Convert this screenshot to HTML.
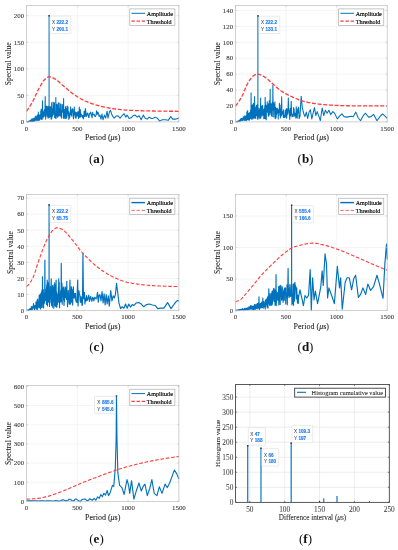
<!DOCTYPE html>
<html><head><meta charset="utf-8"><title>Figure</title>
<style>
html,body{margin:0;padding:0;background:#fff;}
svg{display:block;}
text{font-family:"Liberation Serif",serif;}
.tk{font-size:6.9px;fill:#3a3a3a;stroke:#3a3a3a;stroke-width:0.1px;}
.xl{font-size:8px;fill:#262626;stroke:#262626;stroke-width:0.1px;}
.yl{font-size:7.55px;fill:#262626;stroke:#262626;stroke-width:0.08px;}
.tk2{font-size:7.3px;fill:#444;stroke:#444;stroke-width:0.06px;}
.xl2{font-size:7.2px;fill:#333;stroke:#333;stroke-width:0.1px;}
.yl2{font-size:7.1px;fill:#333;stroke:#333;stroke-width:0.1px;}
.lg{font-size:6.1px;fill:#000;stroke:#000;stroke-width:0.15px;}
.lg2{font-size:6.3px;fill:#222;stroke:#222;stroke-width:0.05px;}
.it{font-style:italic;}
.tp{font-family:"Liberation Sans",sans-serif;font-size:4.6px;}
.tx{fill:#4a4a4a;stroke:#4a4a4a;stroke-width:0.08px;}
.tv{font-weight:bold;fill:#1a7bf0;stroke:#1a7bf0;stroke-width:0.12px;}
.cp{font-size:13px;font-weight:bold;fill:#111;}
.cpn{font-weight:normal;}
</style></head><body>
<svg width="398" height="550" viewBox="0 0 398 550">
<rect width="398" height="550" fill="#fff"/>
<rect x="26.5" y="5.6" width="152.4" height="116.3" fill="#fff"/>
<line x1="77.3" y1="5.6" x2="77.3" y2="121.9" stroke="#ebebeb" stroke-width="0.55"/>
<line x1="128.1" y1="5.6" x2="128.1" y2="121.9" stroke="#ebebeb" stroke-width="0.55"/>
<line x1="26.5" y1="95.35" x2="178.9" y2="95.35" stroke="#ebebeb" stroke-width="0.55"/>
<line x1="26.5" y1="68.79" x2="178.9" y2="68.79" stroke="#ebebeb" stroke-width="0.55"/>
<line x1="26.5" y1="42.24" x2="178.9" y2="42.24" stroke="#ebebeb" stroke-width="0.55"/>
<line x1="26.5" y1="15.69" x2="178.9" y2="15.69" stroke="#ebebeb" stroke-width="0.55"/>
<polyline points="26.5,121.9 27.11,121.77 27.21,121.73 27.31,121.85 27.41,121.8 27.52,121.53 27.62,121.8 27.72,121.77 27.82,121.4 27.92,121.56 28.02,121.64 28.13,121.56 28.23,121.47 28.33,121.63 28.43,121.69 28.53,121.3 28.64,121.36 28.74,121.43 28.84,121.19 28.94,121.36 29.04,120.85 29.14,121.56 29.25,121.29 29.35,121.32 29.45,121.4 29.55,121.19 29.66,121.45 29.76,120.87 29.86,120.71 29.96,121.5 30.06,121.11 30.17,121.28 30.27,121.52 30.37,120.33 30.47,121.01 30.58,121.35 30.68,120.59 30.78,121.22 30.88,119.98 30.99,121.15 31.09,121.54 31.19,121.13 31.3,120.86 31.4,120.62 31.5,119.56 31.61,120.1 31.71,120.75 31.81,121.55 31.92,121.06 32.02,118.54 32.12,120.38 32.22,119.82 32.33,121.31 32.43,121.39 32.53,119.16 32.64,119.89 32.74,120.51 32.85,120.46 32.95,121.08 33.05,120.79 33.16,121.38 33.26,118.76 33.36,119.91 33.47,120.86 33.57,119 33.68,120.58 33.78,121.09 33.89,119.33 33.99,118 34.1,121.27 34.2,118.38 34.31,120.46 34.41,120.84 34.52,121.32 34.63,120.03 34.74,118.46 34.84,119.29 34.95,117.68 35.06,120.19 35.17,119.8 35.27,119.98 35.37,116.15 35.48,116.6 35.59,119.58 35.69,119.19 35.8,119.62 35.91,117.76 36.02,120.96 36.13,120.73 36.23,119.13 36.34,119.76 36.45,116.84 36.56,117.45 36.67,118.36 36.78,117.73 36.88,117.47 36.99,116.82 37.1,115.37 37.21,119.93 37.32,117.43 37.42,119.88 37.53,118.22 37.63,116.1 37.74,114.96 37.85,116.09 37.96,120.63 38.08,118.31 38.19,119.44 38.3,112.07 38.4,119.49 38.51,118.76 38.61,118 38.72,120.13 38.83,113.93 38.95,115.95 39.06,119.1 39.18,116.72 39.3,119.76 39.42,115.73 39.53,118.34 39.63,120.2 39.74,119.24 39.85,115.8 39.96,115.06 40.07,117.35 40.18,114.81 40.3,117.01 40.42,118.83 40.54,117.16 40.66,116.45 40.78,110.85 40.91,118.81 41.01,119.14 41.12,114.74 41.22,108.95 41.33,110.27 41.44,113.11 41.55,119.25 41.66,111.58 41.78,112.99 41.89,118.14 42.01,115 42.13,119.41 42.25,111.2 42.38,112.21 42.5,100.66 42.63,111.51 42.76,116.55 42.89,110.93 43.02,116.64 43.16,117.86 43.26,115.13 43.36,114.02 43.47,116.1 43.58,112.78 43.68,112.75 43.79,116.47 43.9,112.4 44.02,115.15 44.13,110.86 44.25,115.76 44.36,109.74 44.48,114.34 44.6,112.8 44.72,111.3 44.85,113.06 44.97,115.86 45.1,104.32 45.23,96.41 45.36,114.95 45.49,112.37 45.62,119.27 45.76,116.9 45.9,108.65 46.04,108.82 46.18,110.9 46.32,106.09 46.47,108.99 46.62,114.76 46.77,110.45 46.87,114.18 46.97,108.84 47.08,113.64 47.18,116.6 47.29,106.33 47.39,109.74 47.5,108.9 47.61,111.49 47.72,108.24 47.83,112.85 47.95,111.4 48.06,118.14 48.17,111.52 48.29,107.62 48.41,109.46 48.53,107.83 48.65,112.22 48.77,106.13 48.89,117.23 49.08,113.69 49.14,113.69 49.27,117.51 49.4,110.63 49.53,112.67 49.66,112.98 49.79,106.77 49.92,116.69 50.06,110.63 50.2,113.13 50.34,111.74 50.48,112.09 50.62,116.71 50.76,111.92 50.91,106.48 51.06,116.14 51.21,119.5 51.36,117.86 51.51,112.51 51.66,102.67 51.82,118.37 51.98,102.25 52.14,111.55 52.3,116.85 52.47,112.95 52.64,115.55 52.8,109.1 52.98,111.44 53.15,114.49 53.33,114.89 53.5,106.23 53.68,102.25 53.87,112.67 54.05,113.03 54.24,108.66 54.43,102.72 54.62,117.45 54.82,116.12 55.02,113.49 55.22,111.74 55.32,117.58 55.43,117.96 55.53,115.24 55.63,113.18 55.74,108.56 55.84,97.47 55.95,118.58 56.06,118.13 56.16,112.36 56.27,105.9 56.38,104.8 56.49,113.38 56.6,105.56 56.72,104.32 56.83,112.87 56.94,108.38 57.06,113.35 57.17,116.08 57.29,110.81 57.4,117.18 57.52,109.64 57.64,107.3 57.76,104.8 57.88,112.37 58,116.62 58.13,105.2 58.25,103.31 58.37,102.84 58.5,110.59 58.63,109.53 58.75,113.25 58.88,115.62 59.01,114.22 59.14,108.85 59.27,113.82 59.41,109.29 59.54,111.74 59.68,112.37 59.81,102.95 59.95,115.84 60.09,111.92 60.23,115.92 60.37,104.23 60.51,111.9 60.65,113.73 60.8,115.79 60.94,110.63 61.09,112.95 61.24,116.38 61.38,118.26 61.53,113.04 61.69,110.78 61.84,104.38 61.99,105.47 62.15,105.16 62.31,104.39 62.46,107.66 62.62,112.05 62.79,111.51 62.95,112.97 63.11,112.94 63.28,117.94 63.45,107.71 63.61,98.53 63.78,118.25 63.96,112.18 64.13,109.03 64.3,112.53 64.48,113.34 64.66,109.87 64.84,115.78 65.02,118.84 65.2,110.72 65.39,111.46 65.58,106.49 65.77,112.76 65.96,108.03 66.15,118.52 66.34,118.21 66.54,110.66 66.74,114.92 66.94,117.25 67.14,105.97 67.34,113.28 67.55,113.77 67.76,111.37 67.97,106.66 68.18,113.67 68.4,115.73 68.61,111.61 68.83,119.37 69.05,113.78 69.28,114.53 69.51,113.91 69.73,117.88 69.97,112.49 70.2,111.89 70.44,110.59 70.67,106.88 70.92,114.7 71.16,112.05 71.41,114.12 71.66,116.18 71.91,109.5 72.16,111.65 72.42,108.65 72.68,110.83 72.95,109.28 73.21,117.21 73.48,118.91 73.76,116.55 74.03,114.81 74.31,107.03 74.59,114.64 74.88,114.07 75.17,111.85 75.46,117.96 75.76,112.75 76.06,118.29 76.37,116.24 76.67,112.42 76.98,112.83 77.3,115.09 77.62,115.95 77.94,111.4 78.27,116.14 78.6,118.64 78.94,116.39 79.28,107.03 79.62,111.82 79.97,117.51 80.33,109.64 80.69,116.75 81.05,116.06 81.42,114.07 81.79,116.09 82.17,115.61 82.56,117.78 82.94,115.59 83.34,118.83 83.74,116.81 84.15,111.06 84.56,116.44 84.97,116.53 85.4,108.62 85.83,111.7 86.26,116.43 86.71,115.93 87.16,113.62 87.61,112.98 88.08,114.46 88.55,117.36 89.02,117.36 89.51,113.44 90,113.9 90.5,112.02 91.01,113.36 91.52,115.91 92.05,117.83 92.58,112.29 93.12,114.21 93.67,115.07 94.23,114.39 94.8,116.3 95.38,116.57 95.97,115.22 96.57,110.75 97.18,114.41 97.8,112.1 98.43,113.32 99.07,116.5 99.96,115.1 100.97,119.14 101.99,114.09 103,119.78 104.43,115.1 105.65,118.18 107.07,111.07 107.98,118.18 109.41,112.08 110.42,110.22 112.05,115.1 114.08,118.18 116.11,116.06 118.04,115.74 120.07,118.18 122.11,115.74 124.14,113.72 125.76,117.12 127.08,115.1 129.12,118.55 131.15,117.76 133.18,115.74 135.21,115.1 137.14,117.12 139.17,115.74 141.21,119.78 143.24,115.1 145.17,118.18 147.2,119.14 149.23,117.12 151.26,118.55 153.2,118.18 155.23,117.12 157.26,118.18 159.7,121.16 162.24,119.78 165.29,119.78 168.33,120.15 170.77,116.59 172.8,119.14 175.34,119.14 178.39,118.18 178.9,117.76" fill="none" stroke="#0072BD" stroke-width="1.05" stroke-linejoin="round"/>
<line x1="49.08" y1="116.97" x2="49.08" y2="15.64" stroke="#0072BD" stroke-width="1.05"/>
<polyline points="26.5,111.28 27.46,109.98 28.42,108.6 29.38,107.14 30.33,105.61 31.29,104 32.25,102.33 33.21,100.57 34.17,98.6 35.13,96.5 36.08,94.36 37.04,92.26 38,90.28 38.96,88.49 39.92,86.74 40.88,85 41.84,83.33 42.79,81.81 43.75,80.51 44.71,79.48 45.67,78.64 46.63,77.84 47.59,77.2 48.55,76.82 49.5,76.78 50.46,76.94 51.42,77.23 52.38,77.62 53.34,78.07 54.3,78.56 55.25,79.05 56.21,79.64 57.17,80.37 58.13,81.18 59.09,82.04 60.05,82.93 61.01,83.81 61.96,84.65 62.92,85.45 63.88,86.27 64.84,87.11 65.8,87.94 66.76,88.78 67.72,89.61 68.67,90.43 69.63,91.23 70.59,92 71.55,92.73 72.51,93.43 73.47,94.11 74.42,94.78 75.38,95.44 76.34,96.08 77.3,96.71 78.26,97.31 79.22,97.89 80.18,98.44 81.13,98.96 82.09,99.46 83.05,99.92 84.01,100.37 84.97,100.81 85.93,101.24 86.88,101.65 87.84,102.06 88.8,102.45 89.76,102.83 90.72,103.2 91.68,103.55 92.64,103.89 93.59,104.22 94.55,104.53 95.51,104.83 96.47,105.12 97.43,105.39 98.39,105.64 99.35,105.89 100.3,106.14 101.26,106.37 102.22,106.6 103.18,106.83 104.14,107.04 105.1,107.25 106.05,107.45 107.01,107.64 107.97,107.82 108.93,108 109.89,108.17 110.85,108.32 111.81,108.47 112.76,108.61 113.72,108.74 114.68,108.87 115.64,109 116.6,109.13 117.56,109.25 118.52,109.36 119.47,109.48 120.43,109.58 121.39,109.69 122.35,109.78 123.31,109.87 124.27,109.96 125.22,110.03 126.18,110.1 127.14,110.16 128.1,110.22 129.06,110.26 130.02,110.31 130.98,110.35 131.93,110.4 132.89,110.44 133.85,110.48 134.81,110.52 135.77,110.55 136.73,110.59 137.68,110.62 138.64,110.66 139.6,110.69 140.56,110.72 141.52,110.75 142.48,110.78 143.44,110.8 144.39,110.83 145.35,110.85 146.31,110.87 147.27,110.9 148.23,110.92 149.19,110.94 150.15,110.96 151.1,110.97 152.06,110.99 153.02,111.01 153.98,111.02 154.94,111.04 155.9,111.05 156.85,111.07 157.81,111.08 158.77,111.09 159.73,111.11 160.69,111.12 161.65,111.14 162.61,111.15 163.56,111.16 164.52,111.18 165.48,111.19 166.44,111.2 167.4,111.21 168.36,111.22 169.32,111.23 170.27,111.24 171.23,111.25 172.19,111.25 173.15,111.26 174.11,111.27 175.07,111.27 176.02,111.27 176.98,111.28 177.94,111.28 178.9,111.28" fill="none" stroke="#FF3B3B" stroke-width="1.3" stroke-linejoin="round" stroke-dasharray="4 1.7"/>
<rect x="26.5" y="5.6" width="152.4" height="116.3" fill="none" stroke="#bdbdbd" stroke-width="0.7"/>
<line x1="26.5" y1="121.9" x2="26.5" y2="120.4" stroke="#bdbdbd" stroke-width="0.6"/>
<line x1="26.5" y1="5.6" x2="26.5" y2="7.1" stroke="#bdbdbd" stroke-width="0.6"/>
<text x="26.5" y="130.5" class="tk" text-anchor="middle">0</text>
<line x1="77.3" y1="121.9" x2="77.3" y2="120.4" stroke="#bdbdbd" stroke-width="0.6"/>
<line x1="77.3" y1="5.6" x2="77.3" y2="7.1" stroke="#bdbdbd" stroke-width="0.6"/>
<text x="77.3" y="130.5" class="tk" text-anchor="middle">500</text>
<line x1="128.1" y1="121.9" x2="128.1" y2="120.4" stroke="#bdbdbd" stroke-width="0.6"/>
<line x1="128.1" y1="5.6" x2="128.1" y2="7.1" stroke="#bdbdbd" stroke-width="0.6"/>
<text x="128.1" y="130.5" class="tk" text-anchor="middle">1000</text>
<line x1="178.9" y1="121.9" x2="178.9" y2="120.4" stroke="#bdbdbd" stroke-width="0.6"/>
<line x1="178.9" y1="5.6" x2="178.9" y2="7.1" stroke="#bdbdbd" stroke-width="0.6"/>
<text x="178.9" y="130.5" class="tk" text-anchor="middle">1500</text>
<line x1="26.5" y1="121.9" x2="28" y2="121.9" stroke="#bdbdbd" stroke-width="0.6"/>
<line x1="178.9" y1="121.9" x2="177.4" y2="121.9" stroke="#bdbdbd" stroke-width="0.6"/>
<text x="24.2" y="124.2" class="tk" text-anchor="end">0</text>
<line x1="26.5" y1="95.35" x2="28" y2="95.35" stroke="#bdbdbd" stroke-width="0.6"/>
<line x1="178.9" y1="95.35" x2="177.4" y2="95.35" stroke="#bdbdbd" stroke-width="0.6"/>
<text x="24.2" y="97.65" class="tk" text-anchor="end">50</text>
<line x1="26.5" y1="68.79" x2="28" y2="68.79" stroke="#bdbdbd" stroke-width="0.6"/>
<line x1="178.9" y1="68.79" x2="177.4" y2="68.79" stroke="#bdbdbd" stroke-width="0.6"/>
<text x="24.2" y="71.09" class="tk" text-anchor="end">100</text>
<line x1="26.5" y1="42.24" x2="28" y2="42.24" stroke="#bdbdbd" stroke-width="0.6"/>
<line x1="178.9" y1="42.24" x2="177.4" y2="42.24" stroke="#bdbdbd" stroke-width="0.6"/>
<text x="24.2" y="44.54" class="tk" text-anchor="end">150</text>
<line x1="26.5" y1="15.69" x2="28" y2="15.69" stroke="#bdbdbd" stroke-width="0.6"/>
<line x1="178.9" y1="15.69" x2="177.4" y2="15.69" stroke="#bdbdbd" stroke-width="0.6"/>
<text x="24.2" y="17.99" class="tk" text-anchor="end">200</text>
<text x="102.7" y="140.2" class="xl" text-anchor="middle">Period (<tspan class='it'>μ</tspan>s)</text>
<text transform="translate(10.7,63.75) rotate(-90)" class="yl" text-anchor="middle">Spectral value</text>
<rect x="129.8" y="8.9" width="45.1" height="16.4" fill="#fff" stroke="#a0a0a0" stroke-width="0.6"/>
<line x1="131.4" y1="13.3" x2="145.1" y2="13.3" stroke="#0072BD" stroke-width="1.0"/>
<text x="146.8" y="15.8" class="lg">Amplitude</text>
<line x1="131.4" y1="21.1" x2="145.1" y2="21.1" stroke="#FF3B3B" stroke-width="1.1" stroke-dasharray="3.4 1.75"/>
<text x="146.8" y="23.6" class="lg">Threshold</text>
<rect x="50" y="16.1" width="20.8" height="17.3" rx="0.6" fill="#fff" fill-opacity="0.92" stroke="#d6d6d6" stroke-width="0.5"/>
<rect x="48.35" y="14.95" width="1.5" height="1.5" fill="#333326"/>
<text x="52" y="23.9" class="tp tx">X</text><text x="56.5" y="23.9" class="tp tv">222.2</text>
<text x="52" y="30.6" class="tp tx">Y</text><text x="56.5" y="30.6" class="tp tv">200.1</text>
<rect x="235.4" y="5.6" width="151.8" height="116.3" fill="#fff"/>
<line x1="286" y1="5.6" x2="286" y2="121.9" stroke="#ebebeb" stroke-width="0.55"/>
<line x1="336.6" y1="5.6" x2="336.6" y2="121.9" stroke="#ebebeb" stroke-width="0.55"/>
<line x1="235.4" y1="105.97" x2="387.2" y2="105.97" stroke="#ebebeb" stroke-width="0.55"/>
<line x1="235.4" y1="90.04" x2="387.2" y2="90.04" stroke="#ebebeb" stroke-width="0.55"/>
<line x1="235.4" y1="74.11" x2="387.2" y2="74.11" stroke="#ebebeb" stroke-width="0.55"/>
<line x1="235.4" y1="58.17" x2="387.2" y2="58.17" stroke="#ebebeb" stroke-width="0.55"/>
<line x1="235.4" y1="42.24" x2="387.2" y2="42.24" stroke="#ebebeb" stroke-width="0.55"/>
<line x1="235.4" y1="26.31" x2="387.2" y2="26.31" stroke="#ebebeb" stroke-width="0.55"/>
<line x1="235.4" y1="10.38" x2="387.2" y2="10.38" stroke="#ebebeb" stroke-width="0.55"/>
<polyline points="235.4,121.9 236.01,121.82 236.11,121.84 236.21,121.7 236.31,121.72 236.41,121.47 236.51,121.55 236.61,121.52 236.72,121.8 236.82,121.59 236.92,121.55 237.02,121.78 237.12,121.56 237.22,121.61 237.32,121.65 237.43,121.3 237.53,121.51 237.63,121.69 237.73,121.5 237.83,121.04 237.93,121.45 238.03,121.58 238.14,121.68 238.24,121.31 238.34,121.16 238.44,121.34 238.54,120.87 238.64,121.17 238.75,120.82 238.85,121.05 238.95,120.97 239.05,121.13 239.15,121.47 239.26,120.68 239.36,120.33 239.46,120.54 239.56,120.94 239.67,121.43 239.77,121.22 239.87,120.63 239.97,120.39 240.07,121.56 240.18,119.47 240.28,120.13 240.38,120.05 240.49,118.89 240.59,120.17 240.69,120.39 240.79,120.9 240.9,119.88 241,119.79 241.1,118.71 241.2,118.76 241.31,120.15 241.41,119.05 241.51,118.34 241.62,120.21 241.72,119.69 241.83,119.68 241.93,119.93 242.03,119.93 242.14,120.57 242.24,120.65 242.34,120.26 242.45,119.4 242.55,119.13 242.65,118.43 242.76,120.2 242.86,119.46 242.97,119.62 243.07,120.52 243.18,116.72 243.28,119.89 243.39,118.59 243.5,118.54 243.6,118.12 243.71,117.71 243.82,116.71 243.92,119.74 244.03,118.37 244.13,119.69 244.24,119.73 244.35,117.57 244.46,117.75 244.56,117.79 244.66,120.42 244.77,115.68 244.88,118.14 244.99,118.81 245.1,116.15 245.2,120.38 245.31,119.4 245.42,120.16 245.53,119.21 245.64,116.78 245.74,120 245.85,116.7 245.96,117.56 246.07,118.84 246.18,115.55 246.28,120.65 246.39,119.12 246.49,117.6 246.6,118.08 246.71,118.09 246.82,111.89 246.93,116.91 247.05,116.03 247.15,117.31 247.25,118.94 247.36,119.67 247.47,114.78 247.57,114.95 247.69,110.53 247.8,118.24 247.91,117.13 248.03,117.18 248.15,115.59 248.27,120.04 248.37,113.21 248.48,113.8 248.59,119.32 248.69,113.77 248.8,116.91 248.92,116.06 249.03,117.99 249.15,113.51 249.26,114.48 249.38,120.28 249.5,118.3 249.63,112.46 249.75,118.37 249.86,114.99 249.96,112.83 250.07,117.81 250.17,114.42 250.28,115.09 250.39,118.02 250.5,110.63 250.62,118.77 250.73,109.8 250.85,115.72 250.97,115.32 251.09,92.75 251.21,108.9 251.34,105.25 251.46,117.06 251.59,112.04 251.72,119.32 251.86,114.52 251.99,116.51 252.09,111.69 252.2,116.65 252.3,111.82 252.41,104.82 252.52,115.96 252.63,117.57 252.74,107.65 252.85,118.88 252.96,109.62 253.08,106.54 253.19,117.32 253.31,112.47 253.43,103.28 253.55,116.98 253.68,107.4 253.8,110.11 253.93,118.27 254.05,116.53 254.18,104.61 254.32,118.34 254.45,113.9 254.58,96.41 254.72,115.08 254.86,115.65 255,107.3 255.15,117.83 255.29,117.19 255.44,110.99 255.59,115.63 255.69,111.19 255.79,118.38 255.9,115.79 256,113.54 256.11,108.12 256.21,105.95 256.32,115.72 256.43,111.3 256.54,105.24 256.65,110.9 256.76,106.67 256.87,105.3 256.99,113.62 257.11,109.69 257.22,110.78 257.34,115.4 257.46,107.87 257.58,104.63 257.7,118.67 257.89,118.2 257.95,118.2 258.08,112.53 258.21,117.62 258.33,112.81 258.47,110.2 258.6,111.13 258.73,113.14 258.87,110.82 259,108.13 259.14,108.82 259.28,116.09 259.42,110.29 259.57,117.78 259.71,108.95 259.86,118.37 260.01,110.18 260.16,114.78 260.31,118.17 260.47,111.16 260.62,98 260.78,117.89 260.94,106.33 261.1,114.65 261.27,108.49 261.43,112.01 261.6,106.12 261.77,113.6 261.94,116.29 262.12,112.95 262.3,108.13 262.48,113.33 262.66,105.21 262.84,112.76 263.03,115.13 263.22,109.58 263.41,109.64 263.61,109.43 263.81,118.63 264.01,110.17 264.11,109.21 264.21,115.73 264.31,117.97 264.42,110.96 264.52,108.54 264.63,118.39 264.73,105.7 264.84,112.88 264.95,113.71 265.06,109.35 265.16,97.21 265.27,105.16 265.39,102.6 265.5,118.72 265.61,112.75 265.72,117.08 265.84,116.16 265.95,105.58 266.07,107.4 266.18,114.34 266.3,119.76 266.42,108.49 266.54,110.94 266.66,106.85 266.78,105.97 266.9,104.72 267.02,111.15 267.15,108.95 267.27,101.81 267.4,111.61 267.53,110.42 267.65,112.6 267.78,108.06 267.91,109.25 268.05,106.51 268.18,105.89 268.31,116.01 268.44,103.71 268.58,106.33 268.72,116.27 268.85,111.8 268.99,113.31 269.13,107.23 269.27,100.65 269.42,111.56 269.56,112.59 269.71,110.56 269.85,104.05 270,114.92 270.15,89.24 270.3,113.02 270.45,107.46 270.6,103.81 270.75,112.26 270.91,103.69 271.07,108.5 271.22,109.51 271.38,108.61 271.54,115.82 271.7,114.79 271.87,108.48 272.03,102.7 272.2,116.59 272.37,109.2 272.54,101.84 272.71,107.61 272.88,85.26 273.06,104.34 273.23,110.31 273.41,109.63 273.59,103.06 273.77,116.92 273.95,107.38 274.14,106.34 274.32,104.44 274.51,109.76 274.7,105.06 274.89,101.8 275.09,117.37 275.28,118.69 275.48,115.25 275.68,107.39 275.88,114.99 276.08,117.96 276.29,108.51 276.5,114.47 276.71,114.46 276.92,108.16 277.13,110.22 277.35,108.22 277.57,112.9 277.79,109.51 278.01,109.38 278.24,118.96 278.46,110.28 278.69,111.81 278.93,111.54 279.16,112.5 279.4,103.16 279.64,111.29 279.88,115.4 280.13,104.96 280.38,118.04 280.63,114.62 280.88,109.02 281.14,110.67 281.4,115.86 281.66,96.73 281.93,114.64 282.2,111.59 282.47,113.74 282.75,112.9 283.02,111.38 283.31,117.45 283.59,109.86 283.88,114.99 284.17,117.79 284.47,115.71 284.77,116.94 285.07,116.98 285.38,110.31 285.69,116.86 286,111.74 286.32,108.54 286.64,118.29 286.97,114.21 287.3,109.02 287.63,114.31 287.97,113 288.32,98 288.66,110.44 289.02,110.32 289.37,113.88 289.74,119.37 290.1,108.58 290.47,115.9 290.85,111.01 291.23,101.19 291.62,114.39 292.02,116.97 292.41,114.15 292.82,116.46 293.23,116.23 293.64,107.64 294.07,109.36 294.49,116.14 294.93,113.22 295.37,113.57 295.82,118.24 296.27,106.79 296.73,116.78 297.2,118.18 297.68,108.67 298.16,113.08 298.65,107.16 299.15,118.64 299.97,116.64 301.18,96.17 302.29,107.56 303.61,113.22 304.92,116.64 306.34,112.1 307.66,118.47 309.07,112.1 310.39,109.79 311.81,118.87 313.12,113.22 314.44,107.56 315.85,115.53 317.17,111.62 318.99,116.64 320.31,120.71 322.13,107.96 323.75,115.53 325.37,110.27 327.09,113.22 328.91,110.27 330.73,114.81 332.75,111.62 334.58,113.22 337.31,118.87 339.53,116.16 341.86,113.93 344.09,116.64 347.43,117.12 350.87,116.16 353.2,116.64 355.83,112.1 358.16,117.76 360.58,120.71 363.32,115.53 365.54,113.22 368.58,117.12 371.21,116.64 373.54,114.33 376.98,120.71 380.32,116.16 382.65,113.93 385.58,116.64 387.2,118.47" fill="none" stroke="#0072BD" stroke-width="1.05" stroke-linejoin="round"/>
<line x1="257.89" y1="119.68" x2="257.89" y2="15.88" stroke="#0072BD" stroke-width="1.05"/>
<polyline points="235.4,105.97 236.35,104.9 237.31,103.69 238.26,102.37 239.22,100.94 240.17,99.41 241.13,97.8 242.08,96.05 243.04,93.95 243.99,91.64 244.95,89.27 245.9,86.98 246.86,84.92 247.81,83.22 248.77,81.66 249.72,80.17 250.68,78.78 251.63,77.55 252.58,76.53 253.54,75.75 254.49,75.13 255.45,74.59 256.4,74.21 257.36,74.11 258.31,74.22 259.27,74.46 260.22,74.8 261.18,75.22 262.13,75.68 263.09,76.17 264.04,76.65 265,77.23 265.95,77.92 266.91,78.68 267.86,79.5 268.82,80.34 269.77,81.18 270.72,81.99 271.68,82.8 272.63,83.64 273.59,84.51 274.54,85.4 275.5,86.29 276.45,87.17 277.41,88.03 278.36,88.86 279.32,89.64 280.27,90.37 281.23,91.03 282.18,91.65 283.14,92.25 284.09,92.82 285.05,93.38 286,93.91 286.95,94.42 287.91,94.91 288.86,95.39 289.82,95.84 290.77,96.28 291.73,96.71 292.68,97.13 293.64,97.55 294.59,97.97 295.55,98.37 296.5,98.77 297.46,99.16 298.41,99.53 299.37,99.9 300.32,100.25 301.28,100.58 302.23,100.89 303.18,101.19 304.14,101.46 305.09,101.72 306.05,101.94 307,102.15 307.96,102.35 308.91,102.54 309.87,102.73 310.82,102.91 311.78,103.08 312.73,103.24 313.69,103.4 314.64,103.54 315.6,103.68 316.55,103.82 317.51,103.94 318.46,104.06 319.42,104.17 320.37,104.27 321.32,104.37 322.28,104.46 323.23,104.54 324.19,104.63 325.14,104.71 326.1,104.79 327.05,104.86 328.01,104.94 328.96,105 329.92,105.07 330.87,105.13 331.83,105.19 332.78,105.24 333.74,105.29 334.69,105.34 335.65,105.38 336.6,105.41 337.55,105.44 338.51,105.48 339.46,105.51 340.42,105.54 341.37,105.57 342.33,105.6 343.28,105.63 344.24,105.66 345.19,105.69 346.15,105.72 347.1,105.74 348.06,105.77 349.01,105.79 349.97,105.82 350.92,105.84 351.88,105.86 352.83,105.88 353.78,105.89 354.74,105.91 355.69,105.92 356.65,105.94 357.6,105.95 358.56,105.96 359.51,105.96 360.47,105.97 361.42,105.97 362.38,105.97 363.33,105.97 364.29,105.97 365.24,105.97 366.2,105.97 367.15,105.97 368.11,105.97 369.06,105.97 370.02,105.97 370.97,105.97 371.92,105.97 372.88,105.97 373.83,105.97 374.79,105.97 375.74,105.97 376.7,105.97 377.65,105.97 378.61,105.97 379.56,105.97 380.52,105.97 381.47,105.97 382.43,105.97 383.38,105.97 384.34,105.97 385.29,105.97 386.25,105.97 387.2,105.97" fill="none" stroke="#FF3B3B" stroke-width="1.3" stroke-linejoin="round" stroke-dasharray="4 1.7"/>
<rect x="235.4" y="5.6" width="151.8" height="116.3" fill="none" stroke="#bdbdbd" stroke-width="0.7"/>
<line x1="235.4" y1="121.9" x2="235.4" y2="120.4" stroke="#bdbdbd" stroke-width="0.6"/>
<line x1="235.4" y1="5.6" x2="235.4" y2="7.1" stroke="#bdbdbd" stroke-width="0.6"/>
<text x="235.4" y="130.5" class="tk" text-anchor="middle">0</text>
<line x1="286" y1="121.9" x2="286" y2="120.4" stroke="#bdbdbd" stroke-width="0.6"/>
<line x1="286" y1="5.6" x2="286" y2="7.1" stroke="#bdbdbd" stroke-width="0.6"/>
<text x="286" y="130.5" class="tk" text-anchor="middle">500</text>
<line x1="336.6" y1="121.9" x2="336.6" y2="120.4" stroke="#bdbdbd" stroke-width="0.6"/>
<line x1="336.6" y1="5.6" x2="336.6" y2="7.1" stroke="#bdbdbd" stroke-width="0.6"/>
<text x="336.6" y="130.5" class="tk" text-anchor="middle">1000</text>
<line x1="387.2" y1="121.9" x2="387.2" y2="120.4" stroke="#bdbdbd" stroke-width="0.6"/>
<line x1="387.2" y1="5.6" x2="387.2" y2="7.1" stroke="#bdbdbd" stroke-width="0.6"/>
<text x="387.2" y="130.5" class="tk" text-anchor="middle">1500</text>
<line x1="235.4" y1="121.9" x2="236.9" y2="121.9" stroke="#bdbdbd" stroke-width="0.6"/>
<line x1="387.2" y1="121.9" x2="385.7" y2="121.9" stroke="#bdbdbd" stroke-width="0.6"/>
<text x="233.1" y="124.2" class="tk" text-anchor="end">0</text>
<line x1="235.4" y1="105.97" x2="236.9" y2="105.97" stroke="#bdbdbd" stroke-width="0.6"/>
<line x1="387.2" y1="105.97" x2="385.7" y2="105.97" stroke="#bdbdbd" stroke-width="0.6"/>
<text x="233.1" y="108.27" class="tk" text-anchor="end">20</text>
<line x1="235.4" y1="90.04" x2="236.9" y2="90.04" stroke="#bdbdbd" stroke-width="0.6"/>
<line x1="387.2" y1="90.04" x2="385.7" y2="90.04" stroke="#bdbdbd" stroke-width="0.6"/>
<text x="233.1" y="92.34" class="tk" text-anchor="end">40</text>
<line x1="235.4" y1="74.11" x2="236.9" y2="74.11" stroke="#bdbdbd" stroke-width="0.6"/>
<line x1="387.2" y1="74.11" x2="385.7" y2="74.11" stroke="#bdbdbd" stroke-width="0.6"/>
<text x="233.1" y="76.41" class="tk" text-anchor="end">60</text>
<line x1="235.4" y1="58.17" x2="236.9" y2="58.17" stroke="#bdbdbd" stroke-width="0.6"/>
<line x1="387.2" y1="58.17" x2="385.7" y2="58.17" stroke="#bdbdbd" stroke-width="0.6"/>
<text x="233.1" y="60.47" class="tk" text-anchor="end">80</text>
<line x1="235.4" y1="42.24" x2="236.9" y2="42.24" stroke="#bdbdbd" stroke-width="0.6"/>
<line x1="387.2" y1="42.24" x2="385.7" y2="42.24" stroke="#bdbdbd" stroke-width="0.6"/>
<text x="233.1" y="44.54" class="tk" text-anchor="end">100</text>
<line x1="235.4" y1="26.31" x2="236.9" y2="26.31" stroke="#bdbdbd" stroke-width="0.6"/>
<line x1="387.2" y1="26.31" x2="385.7" y2="26.31" stroke="#bdbdbd" stroke-width="0.6"/>
<text x="233.1" y="28.61" class="tk" text-anchor="end">120</text>
<line x1="235.4" y1="10.38" x2="236.9" y2="10.38" stroke="#bdbdbd" stroke-width="0.6"/>
<line x1="387.2" y1="10.38" x2="385.7" y2="10.38" stroke="#bdbdbd" stroke-width="0.6"/>
<text x="233.1" y="12.68" class="tk" text-anchor="end">140</text>
<text x="311.3" y="140.2" class="xl" text-anchor="middle">Period (<tspan class='it'>μ</tspan>s)</text>
<text transform="translate(219.9,63.75) rotate(-90)" class="yl" text-anchor="middle">Spectral value</text>
<rect x="338.7" y="8.9" width="45.1" height="16.4" fill="#fff" stroke="#a0a0a0" stroke-width="0.6"/>
<line x1="340.3" y1="13.3" x2="354" y2="13.3" stroke="#0072BD" stroke-width="1.0"/>
<text x="355.7" y="15.8" class="lg">Amplitude</text>
<line x1="340.3" y1="21.1" x2="354" y2="21.1" stroke="#FF3B3B" stroke-width="1.1" stroke-dasharray="3.4 1.75"/>
<text x="355.7" y="23.6" class="lg">Threshold</text>
<rect x="259" y="16.2" width="20.8" height="17.3" rx="0.6" fill="#fff" fill-opacity="0.92" stroke="#d6d6d6" stroke-width="0.5"/>
<rect x="257.25" y="15.05" width="1.5" height="1.5" fill="#333326"/>
<text x="261" y="24" class="tp tx">X</text><text x="265.5" y="24" class="tp tv">222.2</text>
<text x="261" y="30.7" class="tp tx">Y</text><text x="265.5" y="30.7" class="tp tv">133.1</text>
<rect x="26.5" y="194.5" width="152.4" height="116.1" fill="#fff"/>
<line x1="77.3" y1="194.5" x2="77.3" y2="310.6" stroke="#ebebeb" stroke-width="0.55"/>
<line x1="128.1" y1="194.5" x2="128.1" y2="310.6" stroke="#ebebeb" stroke-width="0.55"/>
<line x1="26.5" y1="294.52" x2="178.9" y2="294.52" stroke="#ebebeb" stroke-width="0.55"/>
<line x1="26.5" y1="278.44" x2="178.9" y2="278.44" stroke="#ebebeb" stroke-width="0.55"/>
<line x1="26.5" y1="262.36" x2="178.9" y2="262.36" stroke="#ebebeb" stroke-width="0.55"/>
<line x1="26.5" y1="246.28" x2="178.9" y2="246.28" stroke="#ebebeb" stroke-width="0.55"/>
<line x1="26.5" y1="230.2" x2="178.9" y2="230.2" stroke="#ebebeb" stroke-width="0.55"/>
<line x1="26.5" y1="214.12" x2="178.9" y2="214.12" stroke="#ebebeb" stroke-width="0.55"/>
<line x1="26.5" y1="198.04" x2="178.9" y2="198.04" stroke="#ebebeb" stroke-width="0.55"/>
<polyline points="26.5,310.6 27.11,310.42 27.21,310.27 27.31,310.45 27.41,310.32 27.52,310.37 27.62,310.18 27.72,310.25 27.82,310.37 27.92,310.2 28.02,310.32 28.13,310.44 28.23,310.37 28.33,310.19 28.43,310.47 28.53,309.82 28.64,309.75 28.74,310.43 28.84,309.94 28.94,309.99 29.04,309.99 29.15,310.3 29.25,309.23 29.35,310.01 29.45,309.16 29.55,309.86 29.66,310.03 29.76,309.94 29.86,309.9 29.96,309.01 30.07,308.86 30.17,308.81 30.27,309.7 30.38,309.61 30.48,309.13 30.58,308.7 30.69,308.63 30.79,308.14 30.89,308.3 31,308.85 31.1,308.34 31.2,308.04 31.31,309.47 31.41,306.62 31.51,308.47 31.62,308.12 31.72,307.93 31.83,307.72 31.94,309.66 32.04,309.69 32.14,308.82 32.25,309.38 32.35,307.14 32.45,308.1 32.56,309.07 32.66,308.22 32.77,308.94 32.87,306.71 32.97,308.07 33.08,305.9 33.18,306.64 33.29,307.65 33.39,307.12 33.5,303.51 33.6,306.26 33.71,307.57 33.81,307.65 33.92,305.09 34.03,306.42 34.13,305.98 34.24,308.62 34.35,307.13 34.46,309.79 34.56,306.54 34.67,309.71 34.78,305.76 34.88,308.52 34.99,309.03 35.1,308.32 35.2,306.8 35.31,306.34 35.41,307.66 35.52,305.39 35.63,305.42 35.74,307.76 35.84,306.67 35.95,302.02 36.06,305.86 36.17,303.34 36.28,304.4 36.39,304.56 36.49,302.2 36.6,309.07 36.71,305.05 36.82,301.56 36.93,304.79 37.05,309.46 37.15,300.06 37.26,302.73 37.36,305.62 37.47,307.18 37.58,309.2 37.69,299.15 37.81,300.69 37.93,307.48 38.05,307.03 38.15,301.74 38.25,307.16 38.36,302.91 38.46,304.76 38.57,302.58 38.68,301.73 38.8,305.08 38.91,304.98 39.03,306.13 39.15,295.24 39.27,303.2 39.4,307.75 39.53,302.36 39.63,300.38 39.73,296.14 39.84,303.95 39.95,297.9 40.06,299.54 40.17,294.19 40.29,303.45 40.4,305.07 40.52,308.94 40.64,300.39 40.76,299.64 40.89,302.16 41.01,293.71 41.14,303.99 41.27,295.33 41.41,292.3 41.51,300.97 41.61,307.53 41.72,298.74 41.82,297.44 41.93,289.84 42.04,292.53 42.15,300.24 42.26,296.65 42.38,303.86 42.49,276.83 42.61,294.12 42.73,298.68 42.85,301.47 42.97,307.36 43.09,299.7 43.22,301.47 43.35,289.75 43.48,303.48 43.61,307.97 43.74,301.56 43.88,298.86 44.02,301.95 44.16,293.61 44.3,300.8 44.45,303.23 44.59,303.04 44.74,290.91 44.9,260.11 45,295.04 45.1,297.17 45.21,300.77 45.31,289.73 45.42,293.68 45.53,289.51 45.64,300.18 45.75,291.6 45.87,296.3 45.98,291.78 46.1,290.6 46.21,299.07 46.33,294.24 46.45,287.65 46.57,304.45 46.7,284.85 46.82,300.16 46.95,290.26 47.07,302.24 47.2,280.06 47.33,294.78 47.47,305.98 47.6,297.81 47.73,293 47.87,291.81 48.01,299.01 48.15,282.4 48.3,297.44 48.44,302.11 48.59,288.54 48.74,283.26 48.89,290.9 49.08,290.9 49.19,299.49 49.35,290.29 49.51,306.61 49.67,299.92 49.84,295.73 50,302.63 50.17,286.63 50.34,288.09 50.51,290.42 50.69,298.91 50.87,286.12 51.05,289.03 51.23,278.92 51.42,301.61 51.61,305.31 51.8,293.96 52,305.24 52.2,293.99 52.4,307.2 52.5,289.16 52.6,285.57 52.71,286.74 52.81,286.67 52.92,291.55 53.02,287.39 53.13,301.08 53.24,290.22 53.35,290.67 53.46,294.45 53.57,295.99 53.68,290.87 53.79,308.17 53.9,301.7 54.02,298.29 54.13,284.64 54.25,294.99 54.36,298.11 54.48,298.52 54.6,298.18 54.72,282.72 54.84,305.75 54.97,297.29 55.09,285.82 55.21,285.26 55.34,306.1 55.46,298.72 55.59,305.97 55.72,298.89 55.85,298.12 55.98,301.88 56.11,280.05 56.25,306.93 56.38,300.63 56.52,291.82 56.66,295.1 56.79,293.12 56.93,307.07 57.07,298.03 57.22,294.85 57.36,304.59 57.5,298.81 57.65,294.55 57.8,296.05 57.95,294.43 58.1,302.32 58.25,293.89 58.4,287.05 58.56,301.02 58.71,278.92 58.87,299.05 59.03,301.44 59.19,282.08 59.36,297.22 59.52,307.71 59.69,300.38 59.85,302.95 60.02,302.13 60.19,296.76 60.37,297.68 60.54,292.63 60.72,290.34 60.9,299.95 61.08,301.69 61.26,263.32 61.44,298.05 61.63,300.2 61.82,299.96 62.01,283.41 62.2,304.2 62.39,288.53 62.59,296.47 62.79,294.11 62.99,288.34 63.19,296.59 63.39,286.95 63.6,300.07 63.81,292.43 64.02,305.48 64.24,296.99 64.45,301.57 64.67,289.55 64.9,288.55 65.12,286.9 65.35,295.31 65.58,297.6 65.81,296.75 66.04,292.79 66.28,287.52 66.52,299.41 66.77,281.38 67.02,296.38 67.27,294.16 67.52,306.72 67.78,301.25 68.03,294.03 68.3,290.37 68.56,299.67 68.83,294.98 69.11,302.08 69.38,304.13 69.66,293.82 69.95,280.05 70.24,294.38 70.53,303.9 70.82,298.1 71.12,294.54 71.43,286.73 71.73,302.18 72.04,289.59 72.36,290.81 72.68,305.1 73.01,293.1 73.34,286.73 73.67,295.53 74.01,297.99 74.36,293.62 74.7,298.05 75.06,296.34 75.42,293.31 75.78,300.12 76.15,301.8 76.53,299.69 76.91,302.47 77.3,290.41 77.69,280.05 78.09,305.87 78.5,294.21 78.91,290.76 79.33,293.66 79.76,294.86 80.19,300.91 80.63,302.35 81.08,296.5 81.53,299.65 82,305.35 82.47,304.57 82.94,253.51 83.43,297.07 83.93,298.96 84.43,292.24 84.94,303.94 85.46,298.33 86,301.09 86.54,295.61 87.09,300.51 87.65,299.6 88.22,297.19 88.8,295.21 89.4,301.48 90,298.87 90.62,296.38 91.25,299.35 91.89,301.32 92.54,297.26 93.21,298.02 93.89,300.79 94.58,297.37 95.29,297.66 96.02,299 96.76,297.13 97.51,292.38 98.28,302.24 99.07,295.15 99.96,294.68 100.97,300.95 102.09,291.63 103.11,303.04 104.12,293.72 105.14,304.97 106.15,294.68 107.17,304.01 108.29,295.81 109.3,306.1 110.73,290.66 111.95,300.95 113.16,295.81 114.38,297.9 115.4,294.68 116.52,283.42 117.74,292.75 118.96,303.04 120.58,308.67 122.21,306.74 123.93,308.19 125.56,304.01 127.19,308.19 128.81,304.01 130.44,307.06 132.16,304.65 133.99,305.45 136.02,303.04 138.77,302.56 141.21,304.01 143.64,306.74 146.39,304.65 149.44,304.01 152.48,304.97 155.23,305.45 157.67,308.67 160.82,308.19 163.86,308.19 167.62,302.56 169.65,306.1 171.08,308.67 174.23,304.01 176.77,300.95 177.99,300.47 178.9,301.27" fill="none" stroke="#0072BD" stroke-width="1.15" stroke-linejoin="round"/>
<line x1="49.08" y1="298.78" x2="49.08" y2="204.87" stroke="#0072BD" stroke-width="1.15"/>
<polyline points="26.5,286.48 27.46,285.82 28.42,284.87 29.38,283.68 30.33,282.28 31.29,280.73 32.25,279.06 33.21,277.19 34.17,274.77 35.13,271.94 36.08,268.87 37.04,265.74 38,262.74 38.96,260.01 39.92,257.35 40.88,254.67 41.84,252 42.79,249.39 43.75,246.86 44.71,244.47 45.67,242.24 46.63,240.22 47.59,238.36 48.55,236.54 49.5,234.81 50.46,233.22 51.42,231.83 52.38,230.7 53.34,229.84 54.3,229.05 55.25,228.37 56.21,227.91 57.17,227.79 58.13,227.9 59.09,228.15 60.05,228.5 61.01,228.91 61.96,229.35 62.92,229.86 63.88,230.54 64.84,231.36 65.8,232.29 66.76,233.33 67.72,234.43 68.67,235.58 69.63,236.75 70.59,237.92 71.55,239.07 72.51,240.18 73.47,241.32 74.42,242.52 75.38,243.77 76.34,245.04 77.3,246.33 78.26,247.61 79.22,248.87 80.18,250.1 81.13,251.28 82.09,252.39 83.05,253.44 84.01,254.48 84.97,255.5 85.93,256.5 86.88,257.49 87.84,258.47 88.8,259.42 89.76,260.36 90.72,261.27 91.68,262.17 92.64,263.04 93.59,263.89 94.55,264.71 95.51,265.51 96.47,266.29 97.43,267.04 98.39,267.76 99.35,268.48 100.3,269.18 101.26,269.87 102.22,270.54 103.18,271.2 104.14,271.85 105.1,272.47 106.05,273.08 107.01,273.67 107.97,274.25 108.93,274.8 109.89,275.33 110.85,275.84 111.81,276.32 112.76,276.79 113.72,277.23 114.68,277.67 115.64,278.11 116.6,278.54 117.56,278.96 118.52,279.37 119.47,279.76 120.43,280.14 121.39,280.51 122.35,280.85 123.31,281.18 124.27,281.48 125.22,281.77 126.18,282.02 127.14,282.26 128.1,282.46 129.06,282.65 130.02,282.83 130.98,283 131.93,283.18 132.89,283.34 133.85,283.5 134.81,283.66 135.77,283.81 136.73,283.96 137.68,284.1 138.64,284.24 139.6,284.37 140.56,284.5 141.52,284.62 142.48,284.74 143.44,284.85 144.39,284.95 145.35,285.05 146.31,285.15 147.27,285.24 148.23,285.32 149.19,285.4 150.15,285.47 151.1,285.54 152.06,285.6 153.02,285.65 153.98,285.7 154.94,285.75 155.9,285.8 156.85,285.84 157.81,285.89 158.77,285.93 159.73,285.98 160.69,286.02 161.65,286.06 162.61,286.1 163.56,286.14 164.52,286.18 165.48,286.21 166.44,286.25 167.4,286.28 168.36,286.31 169.32,286.34 170.27,286.36 171.23,286.39 172.19,286.41 173.15,286.43 174.11,286.44 175.07,286.45 176.02,286.47 176.98,286.47 177.94,286.48 178.9,286.48" fill="none" stroke="#FF3B3B" stroke-width="1.1" stroke-linejoin="round" stroke-dasharray="3.6 1.8"/>
<rect x="26.5" y="194.5" width="152.4" height="116.1" fill="none" stroke="#bdbdbd" stroke-width="0.7"/>
<line x1="26.5" y1="310.6" x2="26.5" y2="309.1" stroke="#bdbdbd" stroke-width="0.6"/>
<line x1="26.5" y1="194.5" x2="26.5" y2="196" stroke="#bdbdbd" stroke-width="0.6"/>
<text x="26.5" y="319.2" class="tk" text-anchor="middle">0</text>
<line x1="77.3" y1="310.6" x2="77.3" y2="309.1" stroke="#bdbdbd" stroke-width="0.6"/>
<line x1="77.3" y1="194.5" x2="77.3" y2="196" stroke="#bdbdbd" stroke-width="0.6"/>
<text x="77.3" y="319.2" class="tk" text-anchor="middle">500</text>
<line x1="128.1" y1="310.6" x2="128.1" y2="309.1" stroke="#bdbdbd" stroke-width="0.6"/>
<line x1="128.1" y1="194.5" x2="128.1" y2="196" stroke="#bdbdbd" stroke-width="0.6"/>
<text x="128.1" y="319.2" class="tk" text-anchor="middle">1000</text>
<line x1="178.9" y1="310.6" x2="178.9" y2="309.1" stroke="#bdbdbd" stroke-width="0.6"/>
<line x1="178.9" y1="194.5" x2="178.9" y2="196" stroke="#bdbdbd" stroke-width="0.6"/>
<text x="178.9" y="319.2" class="tk" text-anchor="middle">1500</text>
<line x1="26.5" y1="310.6" x2="28" y2="310.6" stroke="#bdbdbd" stroke-width="0.6"/>
<line x1="178.9" y1="310.6" x2="177.4" y2="310.6" stroke="#bdbdbd" stroke-width="0.6"/>
<text x="24.2" y="312.9" class="tk" text-anchor="end">0</text>
<line x1="26.5" y1="294.52" x2="28" y2="294.52" stroke="#bdbdbd" stroke-width="0.6"/>
<line x1="178.9" y1="294.52" x2="177.4" y2="294.52" stroke="#bdbdbd" stroke-width="0.6"/>
<text x="24.2" y="296.82" class="tk" text-anchor="end">10</text>
<line x1="26.5" y1="278.44" x2="28" y2="278.44" stroke="#bdbdbd" stroke-width="0.6"/>
<line x1="178.9" y1="278.44" x2="177.4" y2="278.44" stroke="#bdbdbd" stroke-width="0.6"/>
<text x="24.2" y="280.74" class="tk" text-anchor="end">20</text>
<line x1="26.5" y1="262.36" x2="28" y2="262.36" stroke="#bdbdbd" stroke-width="0.6"/>
<line x1="178.9" y1="262.36" x2="177.4" y2="262.36" stroke="#bdbdbd" stroke-width="0.6"/>
<text x="24.2" y="264.66" class="tk" text-anchor="end">30</text>
<line x1="26.5" y1="246.28" x2="28" y2="246.28" stroke="#bdbdbd" stroke-width="0.6"/>
<line x1="178.9" y1="246.28" x2="177.4" y2="246.28" stroke="#bdbdbd" stroke-width="0.6"/>
<text x="24.2" y="248.58" class="tk" text-anchor="end">40</text>
<line x1="26.5" y1="230.2" x2="28" y2="230.2" stroke="#bdbdbd" stroke-width="0.6"/>
<line x1="178.9" y1="230.2" x2="177.4" y2="230.2" stroke="#bdbdbd" stroke-width="0.6"/>
<text x="24.2" y="232.5" class="tk" text-anchor="end">50</text>
<line x1="26.5" y1="214.12" x2="28" y2="214.12" stroke="#bdbdbd" stroke-width="0.6"/>
<line x1="178.9" y1="214.12" x2="177.4" y2="214.12" stroke="#bdbdbd" stroke-width="0.6"/>
<text x="24.2" y="216.42" class="tk" text-anchor="end">60</text>
<line x1="26.5" y1="198.04" x2="28" y2="198.04" stroke="#bdbdbd" stroke-width="0.6"/>
<line x1="178.9" y1="198.04" x2="177.4" y2="198.04" stroke="#bdbdbd" stroke-width="0.6"/>
<text x="24.2" y="200.34" class="tk" text-anchor="end">70</text>
<text x="102.7" y="328.9" class="xl" text-anchor="middle">Period (<tspan class='it'>μ</tspan>s)</text>
<text transform="translate(12.5,252.55) rotate(-90)" class="yl" text-anchor="middle">Spectral value</text>
<rect x="129.8" y="198.2" width="45.1" height="16.4" fill="#fff" stroke="#a0a0a0" stroke-width="0.6"/>
<line x1="131.4" y1="202.6" x2="145.1" y2="202.6" stroke="#0072BD" stroke-width="1.45"/>
<text x="146.8" y="205.1" class="lg">Amplitude</text>
<line x1="131.4" y1="210.4" x2="145.1" y2="210.4" stroke="#FF3B3B" stroke-width="0.8" stroke-dasharray="3.4 1.75"/>
<text x="146.8" y="212.9" class="lg">Threshold</text>
<rect x="50" y="205.3" width="20.8" height="17.3" rx="0.6" fill="#fff" fill-opacity="0.92" stroke="#d6d6d6" stroke-width="0.5"/>
<rect x="48.35" y="204.15" width="1.5" height="1.5" fill="#333326"/>
<text x="52" y="213.1" class="tp tx">X</text><text x="56.5" y="213.1" class="tp tv">222.2</text>
<text x="52" y="219.8" class="tp tx">Y</text><text x="56.5" y="219.8" class="tp tv">65.75</text>
<rect x="235.4" y="194.5" width="151.8" height="116.1" fill="#fff"/>
<line x1="286" y1="194.5" x2="286" y2="310.6" stroke="#ebebeb" stroke-width="0.55"/>
<line x1="336.6" y1="194.5" x2="336.6" y2="310.6" stroke="#ebebeb" stroke-width="0.55"/>
<line x1="235.4" y1="279.05" x2="387.2" y2="279.05" stroke="#ebebeb" stroke-width="0.55"/>
<line x1="235.4" y1="247.5" x2="387.2" y2="247.5" stroke="#ebebeb" stroke-width="0.55"/>
<line x1="235.4" y1="215.95" x2="387.2" y2="215.95" stroke="#ebebeb" stroke-width="0.55"/>
<polyline points="235.4,310.6 236.01,310.54 236.11,310.51 236.21,310.4 236.31,310.52 236.41,310.39 236.51,310.5 236.61,310.46 236.72,310.38 236.82,310.38 236.92,310.23 237.02,310.4 237.12,310.19 237.22,310.18 237.32,310.26 237.43,310.5 237.53,310.19 237.63,310.11 237.73,310.27 237.83,310.38 237.93,310.37 238.03,310.06 238.14,310.41 238.24,310.19 238.34,310.33 238.44,310.27 238.54,309.79 238.64,310.26 238.75,310.03 238.85,309.96 238.95,310.22 239.05,310.3 239.15,309.9 239.25,310.09 239.36,310.18 239.46,310.22 239.56,309.5 239.66,309.91 239.76,309.98 239.87,310.26 239.97,309.57 240.07,310.07 240.17,309.69 240.27,309.51 240.38,310.13 240.48,309.28 240.58,309.46 240.68,309.81 240.79,309.65 240.89,310.02 240.99,309.61 241.09,309.87 241.2,309.95 241.3,309.59 241.4,309.87 241.5,309.54 241.61,309.32 241.71,309.94 241.82,310 241.92,309.87 242.02,309.76 242.12,309.41 242.23,309.72 242.33,309.42 242.44,308.67 242.54,309.9 242.64,309.27 242.75,309.61 242.85,309.66 242.96,309.43 243.06,310.01 243.17,309.74 243.27,309.78 243.37,309.35 243.48,309.82 243.58,310.11 243.69,310.12 243.79,309.03 243.9,309.16 244.01,308.83 244.11,309.14 244.22,310.06 244.32,309.06 244.43,309.28 244.53,308.33 244.64,309.7 244.74,309.96 244.85,308.7 244.96,309.38 245.07,309.3 245.17,308.89 245.27,309.72 245.38,309.29 245.49,308.65 245.59,309.03 245.7,308.29 245.8,308.38 245.91,309.48 246.02,308.51 246.12,308.82 246.22,309.73 246.33,309.44 246.44,308.49 246.55,308.2 246.66,309.61 246.77,308.52 246.87,309.23 246.98,309.5 247.09,309.7 247.19,309.69 247.31,308.89 247.42,309.62 247.53,308.54 247.64,307.93 247.74,308.89 247.85,308.44 247.96,307.79 248.07,307.8 248.18,309.04 248.29,308.46 248.41,308.64 248.53,309.49 248.63,309.25 248.73,309.59 248.84,309.16 248.95,306.77 249.06,307.09 249.17,307.46 249.28,307.32 249.4,306.89 249.51,309.16 249.63,308.11 249.75,308.62 249.86,309.11 249.96,309.27 250.07,306.96 250.17,307.82 250.28,307.56 250.39,306.72 250.5,309.03 250.62,305.65 250.73,308.12 250.85,308.52 250.97,306.18 251.09,308.73 251.21,306.63 251.34,309.02 251.46,307.62 251.57,307.53 251.67,308.41 251.78,307.51 251.88,305.81 251.99,308.23 252.1,309.1 252.21,307.92 252.32,309.15 252.44,307.18 252.55,306.82 252.67,309.52 252.79,306.29 252.91,306.95 253.03,307.8 253.15,309.82 253.28,308.71 253.41,307.69 253.54,306.17 253.67,309.36 253.8,306.67 253.93,309.61 254.04,307.28 254.14,308.18 254.25,306.14 254.35,308.69 254.46,305.64 254.57,306.16 254.68,304.25 254.79,307.06 254.9,308.32 255.01,306.11 255.13,307.03 255.24,309.47 255.36,308.44 255.48,308.16 255.6,306.22 255.72,304.86 255.84,308.43 255.97,307.16 256.1,306.32 256.22,305.05 256.35,304.68 256.48,306.93 256.62,308.26 256.75,308.12 256.89,305.98 257.02,306.6 257.16,308.9 257.3,303.25 257.45,305.66 257.59,304.61 257.74,307.01 257.89,306.44 258.04,307.07 258.14,307.87 258.24,303.23 258.35,303.73 258.45,305.83 258.56,306.96 258.66,307.2 258.77,308.15 258.88,304.83 258.99,296.72 259.1,305.36 259.21,304.34 259.32,309.5 259.44,305.11 259.55,305.04 259.67,308.36 259.79,304.3 259.9,307.42 260.02,305.99 260.14,307.01 260.26,308.1 260.39,303.52 260.51,304.38 260.64,303.34 260.76,305.73 260.89,306.76 261.02,303.99 261.15,306.14 261.28,303.86 261.42,307.64 261.55,306.05 261.69,302.12 261.82,306.56 261.96,306.94 262.1,305.59 262.24,305.47 262.39,307.49 262.53,304.88 262.68,306.35 262.83,298.05 262.97,304.84 263.13,306.18 263.28,308.22 263.43,301.3 263.59,304.54 263.75,306.18 263.91,306.17 264.07,301.9 264.23,303.26 264.4,304.34 264.56,307.01 264.73,307.35 264.9,304.66 265.08,307.19 265.25,309.02 265.43,300.15 265.61,306.29 265.79,300.04 265.97,304.65 266.16,303.02 266.35,299.14 266.54,301.36 266.73,302.64 266.93,304.35 267.12,307.23 267.32,298.85 267.53,297.3 267.63,304 267.73,303.78 267.84,296.82 267.94,308.15 268.05,307.3 268.15,296.06 268.26,302.32 268.36,302.32 268.47,302.68 268.58,303.28 268.69,298.13 268.8,288.83 268.91,294.37 269.02,292.61 269.13,295.59 269.25,303.71 269.36,296.23 269.47,294.3 269.59,305.15 269.71,298.12 269.82,304.64 269.94,297.3 270.06,303.96 270.18,304.98 270.3,301.06 270.42,301.52 270.54,297.46 270.66,298.48 270.78,293.57 270.91,301.27 271.03,305.53 271.16,295.04 271.29,301.29 271.41,298.99 271.54,304 271.67,303.91 271.8,299.6 271.93,291.55 272.07,304.88 272.2,298.48 272.33,304.17 272.47,300.74 272.61,291.56 272.74,291.47 272.88,301.56 273.02,290.25 273.16,296.44 273.3,296.99 273.45,288.75 273.59,295.6 273.73,298.88 273.88,297.88 274.03,288.24 274.17,298.15 274.32,301.27 274.47,297.52 274.62,301.76 274.78,296.64 274.93,290.04 275.09,305.14 275.24,301.98 275.4,292.64 275.56,302.04 275.72,301.6 275.88,295.34 276.04,274.63 276.21,305.6 276.37,303.02 276.54,291.58 276.71,297.47 276.88,300.27 277.05,300.28 277.22,293.28 277.39,293.29 277.57,292.58 277.74,293.62 277.92,296.56 278.1,297.68 278.28,299.91 278.46,300.71 278.65,286.64 278.83,305.05 279.02,292.54 279.21,300.49 279.4,296.44 279.59,286.04 279.79,286.01 279.98,299.94 280.18,304.5 280.38,285.92 280.58,292.28 280.78,285.36 280.99,288.29 281.19,296.21 281.4,293.41 281.61,300.17 281.82,299.75 282.04,294.84 282.25,286.79 282.47,297.03 282.69,298.48 282.91,295.5 283.14,302.29 283.36,294.65 283.59,291.03 283.82,295.55 284.05,289.12 284.29,300.3 284.53,290.38 284.77,288.15 285.01,290.71 285.25,289.95 285.5,287.79 285.75,304.01 286,295.55 286.25,293.52 286.51,297.16 286.77,295.93 287.03,284.88 287.3,304.63 287.56,284.8 287.84,286.04 288.11,268.32 288.38,295.38 288.66,288.02 288.94,297.54 289.23,293.68 289.52,296.78 289.81,284.66 290.1,296.57 290.4,295.73 290.7,296.02 291,294.39 291.31,284.61 291.61,284.61 291.94,304.86 292.25,293.62 292.58,303.49 292.9,299.4 293.23,284.28 293.56,305.3 293.9,283.81 294.24,301.33 294.58,298.72 294.93,282.21 295.28,288.67 295.64,285.86 296,290.06 296.36,298.73 296.73,287.74 297.11,297.98 297.49,302.85 297.87,295.22 298.26,303.38 298.65,296.57 299.05,294.51 299.97,289.78 301.79,297.98 303.41,305.74 305.03,295.46 306.75,297.98 308.57,295.46 310.19,269.59 311.3,310.28 312.62,277.79 314.03,299.87 315.35,291.04 317.57,303.66 319.19,295.46 320.81,286.62 322.13,270.85 323.24,285.36 325.06,253.81 326.48,263.91 327.59,297.98 328.91,287.88 331.64,295.46 334.37,303.66 337.31,266.43 339.53,287.88 340.65,277.79 342.27,309.15 345.2,282.21 347.02,277.79 349.35,277.79 351.58,289.78 353.8,278.42 355.63,275.27 358.36,297.35 360.58,294.45 362.91,287.88 365.64,294.45 367.87,284.1 370.6,290.41 373.54,286.62 376.98,275.27 379.21,283.15 383.05,298.3 384.87,263.91 386.49,244.03 387.2,259.49" fill="none" stroke="#0072BD" stroke-width="1.15" stroke-linejoin="round"/>
<line x1="291.61" y1="295.01" x2="291.61" y2="205.48" stroke="#0072BD" stroke-width="1.15"/>
<polyline points="235.4,301.45 236.35,301.34 237.31,301.07 238.26,300.69 239.22,300.23 240.17,299.72 241.13,299.11 242.08,298.24 243.04,297.18 243.99,296.02 244.95,294.86 245.9,293.76 246.86,292.66 247.81,291.53 248.77,290.38 249.72,289.23 250.68,288.09 251.63,286.96 252.58,285.84 253.54,284.72 254.49,283.58 255.45,282.44 256.4,281.26 257.36,280.05 258.31,278.82 259.27,277.62 260.22,276.45 261.18,275.36 262.13,274.31 263.09,273.29 264.04,272.3 265,271.32 265.95,270.34 266.91,269.36 267.86,268.4 268.82,267.45 269.77,266.51 270.72,265.58 271.68,264.66 272.63,263.77 273.59,262.88 274.54,261.99 275.5,261.11 276.45,260.21 277.41,259.3 278.36,258.39 279.32,257.49 280.27,256.61 281.23,255.77 282.18,254.96 283.14,254.16 284.09,253.39 285.05,252.64 286,251.92 286.95,251.2 287.91,250.47 288.86,249.76 289.82,249.07 290.77,248.45 291.73,247.9 292.68,247.46 293.64,247.09 294.59,246.76 295.55,246.46 296.5,246.19 297.46,245.93 298.41,245.69 299.37,245.45 300.32,245.2 301.28,244.95 302.23,244.7 303.18,244.46 304.14,244.23 305.09,244.04 306.05,243.87 307,243.73 307.96,243.59 308.91,243.46 309.87,243.34 310.82,243.24 311.78,243.15 312.73,243.1 313.69,243.09 314.64,243.12 315.6,243.21 316.55,243.35 317.51,243.52 318.46,243.73 319.42,243.95 320.37,244.18 321.32,244.42 322.28,244.65 323.23,244.86 324.19,245.09 325.14,245.34 326.1,245.59 327.05,245.86 328.01,246.14 328.96,246.42 329.92,246.72 330.87,247.02 331.83,247.33 332.78,247.65 333.74,247.97 334.69,248.3 335.65,248.63 336.6,248.96 337.55,249.29 338.51,249.63 339.46,249.99 340.42,250.35 341.37,250.72 342.33,251.09 343.28,251.48 344.24,251.87 345.19,252.27 346.15,252.67 347.1,253.08 348.06,253.49 349.01,253.9 349.97,254.31 350.92,254.73 351.88,255.14 352.83,255.56 353.78,255.97 354.74,256.39 355.69,256.8 356.65,257.2 357.6,257.61 358.56,258.02 359.51,258.43 360.47,258.85 361.42,259.27 362.38,259.69 363.33,260.11 364.29,260.53 365.24,260.95 366.2,261.37 367.15,261.79 368.11,262.21 369.06,262.63 370.02,263.05 370.97,263.46 371.92,263.88 372.88,264.29 373.83,264.7 374.79,265.1 375.74,265.5 376.7,265.91 377.65,266.3 378.61,266.7 379.56,267.1 380.52,267.49 381.47,267.89 382.43,268.28 383.38,268.67 384.34,269.06 385.29,269.45 386.25,269.83 387.2,270.22" fill="none" stroke="#FF3B3B" stroke-width="1.1" stroke-linejoin="round" stroke-dasharray="3.6 1.8"/>
<rect x="235.4" y="194.5" width="151.8" height="116.1" fill="none" stroke="#bdbdbd" stroke-width="0.7"/>
<line x1="235.4" y1="310.6" x2="235.4" y2="309.1" stroke="#bdbdbd" stroke-width="0.6"/>
<line x1="235.4" y1="194.5" x2="235.4" y2="196" stroke="#bdbdbd" stroke-width="0.6"/>
<text x="235.4" y="319.2" class="tk" text-anchor="middle">0</text>
<line x1="286" y1="310.6" x2="286" y2="309.1" stroke="#bdbdbd" stroke-width="0.6"/>
<line x1="286" y1="194.5" x2="286" y2="196" stroke="#bdbdbd" stroke-width="0.6"/>
<text x="286" y="319.2" class="tk" text-anchor="middle">500</text>
<line x1="336.6" y1="310.6" x2="336.6" y2="309.1" stroke="#bdbdbd" stroke-width="0.6"/>
<line x1="336.6" y1="194.5" x2="336.6" y2="196" stroke="#bdbdbd" stroke-width="0.6"/>
<text x="336.6" y="319.2" class="tk" text-anchor="middle">1000</text>
<line x1="387.2" y1="310.6" x2="387.2" y2="309.1" stroke="#bdbdbd" stroke-width="0.6"/>
<line x1="387.2" y1="194.5" x2="387.2" y2="196" stroke="#bdbdbd" stroke-width="0.6"/>
<text x="387.2" y="319.2" class="tk" text-anchor="middle">1500</text>
<line x1="235.4" y1="310.6" x2="236.9" y2="310.6" stroke="#bdbdbd" stroke-width="0.6"/>
<line x1="387.2" y1="310.6" x2="385.7" y2="310.6" stroke="#bdbdbd" stroke-width="0.6"/>
<text x="233.1" y="312.9" class="tk" text-anchor="end">0</text>
<line x1="235.4" y1="279.05" x2="236.9" y2="279.05" stroke="#bdbdbd" stroke-width="0.6"/>
<line x1="387.2" y1="279.05" x2="385.7" y2="279.05" stroke="#bdbdbd" stroke-width="0.6"/>
<text x="233.1" y="281.35" class="tk" text-anchor="end">50</text>
<line x1="235.4" y1="247.5" x2="236.9" y2="247.5" stroke="#bdbdbd" stroke-width="0.6"/>
<line x1="387.2" y1="247.5" x2="385.7" y2="247.5" stroke="#bdbdbd" stroke-width="0.6"/>
<text x="233.1" y="249.8" class="tk" text-anchor="end">100</text>
<line x1="235.4" y1="215.95" x2="236.9" y2="215.95" stroke="#bdbdbd" stroke-width="0.6"/>
<line x1="387.2" y1="215.95" x2="385.7" y2="215.95" stroke="#bdbdbd" stroke-width="0.6"/>
<text x="233.1" y="218.25" class="tk" text-anchor="end">150</text>
<text x="311.3" y="328.9" class="xl" text-anchor="middle">Period (<tspan class='it'>μ</tspan>s)</text>
<text transform="translate(219.9,252.55) rotate(-90)" class="yl" text-anchor="middle">Spectral value</text>
<rect x="338.7" y="198.2" width="45.1" height="16.4" fill="#fff" stroke="#a0a0a0" stroke-width="0.6"/>
<line x1="340.3" y1="202.6" x2="354" y2="202.6" stroke="#0072BD" stroke-width="1.45"/>
<text x="355.7" y="205.1" class="lg">Amplitude</text>
<line x1="340.3" y1="210.4" x2="354" y2="210.4" stroke="#FF3B3B" stroke-width="0.8" stroke-dasharray="3.4 1.75"/>
<text x="355.7" y="212.9" class="lg">Threshold</text>
<rect x="292.6" y="205.6" width="20.8" height="17.3" rx="0.6" fill="#fff" fill-opacity="0.92" stroke="#d6d6d6" stroke-width="0.5"/>
<rect x="290.85" y="204.45" width="1.5" height="1.5" fill="#333326"/>
<text x="294.6" y="213.4" class="tp tx">X</text><text x="299.1" y="213.4" class="tp tv">555.4</text>
<text x="294.6" y="220.1" class="tp tx">Y</text><text x="299.1" y="220.1" class="tp tv">166.6</text>
<rect x="26.5" y="385.6" width="152.4" height="115.8" fill="#fff"/>
<line x1="77.3" y1="385.6" x2="77.3" y2="501.4" stroke="#ebebeb" stroke-width="0.55"/>
<line x1="128.1" y1="385.6" x2="128.1" y2="501.4" stroke="#ebebeb" stroke-width="0.55"/>
<line x1="26.5" y1="482.23" x2="178.9" y2="482.23" stroke="#ebebeb" stroke-width="0.55"/>
<line x1="26.5" y1="463.06" x2="178.9" y2="463.06" stroke="#ebebeb" stroke-width="0.55"/>
<line x1="26.5" y1="443.88" x2="178.9" y2="443.88" stroke="#ebebeb" stroke-width="0.55"/>
<line x1="26.5" y1="424.71" x2="178.9" y2="424.71" stroke="#ebebeb" stroke-width="0.55"/>
<line x1="26.5" y1="405.54" x2="178.9" y2="405.54" stroke="#ebebeb" stroke-width="0.55"/>
<polyline points="26.5,500.77 27.72,500.78 28.94,500.78 30.16,500.86 31.38,500.9 32.6,500.8 33.82,500.73 35.03,500.79 36.25,500.76 37.47,500.93 38.69,500.94 39.91,500.78 41.13,500.75 42.35,500.7 43.57,500.78 44.79,500.96 46.01,500.9 47.23,500.75 48.45,500.69 49.66,500.71 50.88,500.91 52.1,501.02 53.32,501.04 54.54,500.83 55.76,500.49 56.98,500.78 58.2,501.1 59.42,501.14 60.64,500.8 61.86,499.96 63.08,499.85 64.3,500.34 65.51,500.81 66.73,500.53 67.95,500.24 69.17,499.25 70.39,499.2 71.61,500.46 72.83,500.74 74.05,500.67 75.27,499.01 76.49,499.12 77.71,500.16 78.93,500.75 80.14,501.8 81.36,500.19 82.58,499.26 83.8,499.21 85.02,498.95 86.24,500.1 87.46,500.69 88.68,500.03 89.9,498.7 90,499.1 92.34,500.25 94.17,498.33 95.79,500.25 97.62,496.8 99.25,498.33 100.87,494.5 102.29,496.8 103.92,493.35 105.54,495.17 107.17,490.47 108.49,495.65 110.32,492.2 112.45,485.3 113.77,486.45 115.3,467.85 116.16,437.94 116.48,396.8 116.97,437.94 117.84,472.64 119.57,485.3 121.9,487.6 124.14,494.5 126.98,479.54 128.61,485.3 129.73,493.35 131.55,480.69 133.89,499.1 136.23,491.05 138.97,482.99 141.31,491.05 143.14,486.45 144.97,484.15 147.3,495.65 149.64,488.75 151.87,479.54 154.21,493.35 156.95,495.65 159.29,486.83 162.03,493.35 165.08,484.15 167.32,487.6 169.65,482.99 174.33,470.15 176.66,473.6 178.9,478.97" fill="none" stroke="#0072BD" stroke-width="1.12" stroke-linejoin="round"/>
<polyline points="26.5,499.1 27.46,499.09 28.42,499.07 29.38,499.04 30.33,498.99 31.29,498.94 32.25,498.88 33.21,498.81 34.17,498.73 35.13,498.66 36.08,498.57 37.04,498.49 38,498.38 38.96,498.25 39.92,498.1 40.88,497.93 41.84,497.74 42.79,497.54 43.75,497.32 44.71,497.1 45.67,496.88 46.63,496.65 47.59,496.42 48.55,496.16 49.5,495.88 50.46,495.59 51.42,495.28 52.38,494.96 53.34,494.64 54.3,494.3 55.25,493.96 56.21,493.62 57.17,493.28 58.13,492.93 59.09,492.57 60.05,492.21 61.01,491.83 61.96,491.45 62.92,491.06 63.88,490.67 64.84,490.27 65.8,489.88 66.76,489.48 67.72,489.08 68.67,488.68 69.63,488.26 70.59,487.85 71.55,487.43 72.51,487 73.47,486.58 74.42,486.16 75.38,485.74 76.34,485.32 77.3,484.91 78.26,484.51 79.22,484.1 80.18,483.69 81.13,483.29 82.09,482.89 83.05,482.49 84.01,482.09 84.97,481.7 85.93,481.31 86.88,480.92 87.84,480.54 88.8,480.17 89.76,479.8 90.72,479.44 91.68,479.08 92.64,478.72 93.59,478.36 94.55,478.01 95.51,477.65 96.47,477.29 97.43,476.93 98.39,476.57 99.35,476.2 100.3,475.84 101.26,475.47 102.22,475.1 103.18,474.73 104.14,474.37 105.1,474.01 106.05,473.65 107.01,473.3 107.97,472.96 108.93,472.62 109.89,472.28 110.85,471.94 111.81,471.61 112.76,471.28 113.72,470.96 114.68,470.64 115.64,470.32 116.6,470.01 117.56,469.7 118.52,469.39 119.47,469.08 120.43,468.78 121.39,468.48 122.35,468.18 123.31,467.89 124.27,467.6 125.22,467.32 126.18,467.04 127.14,466.77 128.1,466.51 129.06,466.25 130.02,466 130.98,465.74 131.93,465.49 132.89,465.24 133.85,465 134.81,464.75 135.77,464.51 136.73,464.27 137.68,464.03 138.64,463.8 139.6,463.57 140.56,463.34 141.52,463.11 142.48,462.89 143.44,462.67 144.39,462.45 145.35,462.24 146.31,462.03 147.27,461.82 148.23,461.62 149.19,461.42 150.15,461.22 151.1,461.03 152.06,460.84 153.02,460.65 153.98,460.47 154.94,460.29 155.9,460.12 156.85,459.94 157.81,459.77 158.77,459.59 159.73,459.42 160.69,459.26 161.65,459.09 162.61,458.93 163.56,458.77 164.52,458.61 165.48,458.45 166.44,458.3 167.4,458.14 168.36,457.99 169.32,457.85 170.27,457.7 171.23,457.56 172.19,457.42 173.15,457.29 174.11,457.16 175.07,457.03 176.02,456.9 176.98,456.78 177.94,456.65 178.9,456.54" fill="none" stroke="#FF3B3B" stroke-width="1.1" stroke-linejoin="round" stroke-dasharray="3.6 1.8"/>
<rect x="26.5" y="385.6" width="152.4" height="115.8" fill="none" stroke="#bdbdbd" stroke-width="0.7"/>
<line x1="26.5" y1="501.4" x2="26.5" y2="499.9" stroke="#bdbdbd" stroke-width="0.6"/>
<line x1="26.5" y1="385.6" x2="26.5" y2="387.1" stroke="#bdbdbd" stroke-width="0.6"/>
<text x="26.5" y="510" class="tk" text-anchor="middle">0</text>
<line x1="77.3" y1="501.4" x2="77.3" y2="499.9" stroke="#bdbdbd" stroke-width="0.6"/>
<line x1="77.3" y1="385.6" x2="77.3" y2="387.1" stroke="#bdbdbd" stroke-width="0.6"/>
<text x="77.3" y="510" class="tk" text-anchor="middle">500</text>
<line x1="128.1" y1="501.4" x2="128.1" y2="499.9" stroke="#bdbdbd" stroke-width="0.6"/>
<line x1="128.1" y1="385.6" x2="128.1" y2="387.1" stroke="#bdbdbd" stroke-width="0.6"/>
<text x="128.1" y="510" class="tk" text-anchor="middle">1000</text>
<line x1="178.9" y1="501.4" x2="178.9" y2="499.9" stroke="#bdbdbd" stroke-width="0.6"/>
<line x1="178.9" y1="385.6" x2="178.9" y2="387.1" stroke="#bdbdbd" stroke-width="0.6"/>
<text x="178.9" y="510" class="tk" text-anchor="middle">1500</text>
<line x1="26.5" y1="501.4" x2="28" y2="501.4" stroke="#bdbdbd" stroke-width="0.6"/>
<line x1="178.9" y1="501.4" x2="177.4" y2="501.4" stroke="#bdbdbd" stroke-width="0.6"/>
<text x="24.2" y="503.7" class="tk" text-anchor="end">0</text>
<line x1="26.5" y1="482.23" x2="28" y2="482.23" stroke="#bdbdbd" stroke-width="0.6"/>
<line x1="178.9" y1="482.23" x2="177.4" y2="482.23" stroke="#bdbdbd" stroke-width="0.6"/>
<text x="24.2" y="484.53" class="tk" text-anchor="end">100</text>
<line x1="26.5" y1="463.06" x2="28" y2="463.06" stroke="#bdbdbd" stroke-width="0.6"/>
<line x1="178.9" y1="463.06" x2="177.4" y2="463.06" stroke="#bdbdbd" stroke-width="0.6"/>
<text x="24.2" y="465.36" class="tk" text-anchor="end">200</text>
<line x1="26.5" y1="443.88" x2="28" y2="443.88" stroke="#bdbdbd" stroke-width="0.6"/>
<line x1="178.9" y1="443.88" x2="177.4" y2="443.88" stroke="#bdbdbd" stroke-width="0.6"/>
<text x="24.2" y="446.18" class="tk" text-anchor="end">300</text>
<line x1="26.5" y1="424.71" x2="28" y2="424.71" stroke="#bdbdbd" stroke-width="0.6"/>
<line x1="178.9" y1="424.71" x2="177.4" y2="424.71" stroke="#bdbdbd" stroke-width="0.6"/>
<text x="24.2" y="427.01" class="tk" text-anchor="end">400</text>
<line x1="26.5" y1="405.54" x2="28" y2="405.54" stroke="#bdbdbd" stroke-width="0.6"/>
<line x1="178.9" y1="405.54" x2="177.4" y2="405.54" stroke="#bdbdbd" stroke-width="0.6"/>
<text x="24.2" y="407.84" class="tk" text-anchor="end">500</text>
<line x1="26.5" y1="386.37" x2="28" y2="386.37" stroke="#bdbdbd" stroke-width="0.6"/>
<line x1="178.9" y1="386.37" x2="177.4" y2="386.37" stroke="#bdbdbd" stroke-width="0.6"/>
<text x="24.2" y="388.67" class="tk" text-anchor="end">600</text>
<text x="102.7" y="519.7" class="xl" text-anchor="middle">Period (<tspan class='it'>μ</tspan>s)</text>
<text transform="translate(10.7,443.5) rotate(-90)" class="yl" text-anchor="middle">Spectral value</text>
<rect x="129.8" y="389.2" width="45.1" height="16.4" fill="#fff" stroke="#a0a0a0" stroke-width="0.6"/>
<line x1="131.4" y1="393.6" x2="145.1" y2="393.6" stroke="#0072BD" stroke-width="1.0"/>
<text x="146.8" y="396.1" class="lg">Amplitude</text>
<line x1="131.4" y1="401.4" x2="145.1" y2="401.4" stroke="#FF3B3B" stroke-width="1.1" stroke-dasharray="3.4 1.75"/>
<text x="146.8" y="403.9" class="lg">Threshold</text>
<rect x="94.5" y="396.4" width="20.8" height="17.3" rx="0.6" fill="#fff" fill-opacity="0.92" stroke="#d6d6d6" stroke-width="0.5"/>
<rect x="115.75" y="395.25" width="1.5" height="1.5" fill="#333326"/>
<text x="97.2" y="404.2" class="tp tx">X</text><text x="102" y="404.2" class="tp tv">885.6</text>
<text x="97.2" y="410.9" class="tp tx">Y</text><text x="102" y="410.9" class="tp tv">545.6</text>
<rect x="235.6" y="384.4" width="153.7" height="117.95" fill="#fff"/>
<line x1="249.83" y1="384.4" x2="249.83" y2="502.35" stroke="#dedede" stroke-width="0.55"/>
<line x1="284.69" y1="384.4" x2="284.69" y2="502.35" stroke="#dedede" stroke-width="0.55"/>
<line x1="319.56" y1="384.4" x2="319.56" y2="502.35" stroke="#dedede" stroke-width="0.55"/>
<line x1="354.43" y1="384.4" x2="354.43" y2="502.35" stroke="#dedede" stroke-width="0.55"/>
<line x1="235.6" y1="487.31" x2="389.3" y2="487.31" stroke="#dedede" stroke-width="0.55"/>
<line x1="235.6" y1="472.28" x2="389.3" y2="472.28" stroke="#dedede" stroke-width="0.55"/>
<line x1="235.6" y1="457.24" x2="389.3" y2="457.24" stroke="#dedede" stroke-width="0.55"/>
<line x1="235.6" y1="442.2" x2="389.3" y2="442.2" stroke="#dedede" stroke-width="0.55"/>
<line x1="235.6" y1="427.17" x2="389.3" y2="427.17" stroke="#dedede" stroke-width="0.55"/>
<line x1="235.6" y1="412.13" x2="389.3" y2="412.13" stroke="#dedede" stroke-width="0.55"/>
<line x1="235.6" y1="397.09" x2="389.3" y2="397.09" stroke="#dedede" stroke-width="0.55"/>
<line x1="247.73" y1="502.35" x2="247.73" y2="445.81" stroke="#0072BD" stroke-width="1.15"/>
<line x1="260.98" y1="502.35" x2="260.98" y2="448.22" stroke="#0072BD" stroke-width="1.15"/>
<line x1="291.18" y1="502.35" x2="291.18" y2="443.1" stroke="#0072BD" stroke-width="1.15"/>
<line x1="319.56" y1="502.35" x2="319.56" y2="500.85" stroke="#0072BD" stroke-width="1.15"/>
<line x1="323.75" y1="502.35" x2="323.75" y2="498.59" stroke="#0072BD" stroke-width="1.15"/>
<line x1="337" y1="502.35" x2="337" y2="496.03" stroke="#0072BD" stroke-width="1.15"/>
<line x1="369.49" y1="502.35" x2="369.49" y2="501.15" stroke="#0072BD" stroke-width="1.15"/>
<rect x="235.6" y="384.4" width="153.7" height="117.95" fill="none" stroke="#303030" stroke-width="0.8"/>
<line x1="249.83" y1="502.35" x2="249.83" y2="500.85" stroke="#303030" stroke-width="0.6"/>
<line x1="249.83" y1="384.4" x2="249.83" y2="385.9" stroke="#303030" stroke-width="0.6"/>
<text x="249.83" y="512.15" class="tk2" text-anchor="middle">50</text>
<line x1="284.69" y1="502.35" x2="284.69" y2="500.85" stroke="#303030" stroke-width="0.6"/>
<line x1="284.69" y1="384.4" x2="284.69" y2="385.9" stroke="#303030" stroke-width="0.6"/>
<text x="284.69" y="512.15" class="tk2" text-anchor="middle">100</text>
<line x1="319.56" y1="502.35" x2="319.56" y2="500.85" stroke="#303030" stroke-width="0.6"/>
<line x1="319.56" y1="384.4" x2="319.56" y2="385.9" stroke="#303030" stroke-width="0.6"/>
<text x="319.56" y="512.15" class="tk2" text-anchor="middle">150</text>
<line x1="354.43" y1="502.35" x2="354.43" y2="500.85" stroke="#303030" stroke-width="0.6"/>
<line x1="354.43" y1="384.4" x2="354.43" y2="385.9" stroke="#303030" stroke-width="0.6"/>
<text x="354.43" y="512.15" class="tk2" text-anchor="middle">200</text>
<line x1="389.3" y1="502.35" x2="389.3" y2="500.85" stroke="#303030" stroke-width="0.6"/>
<line x1="389.3" y1="384.4" x2="389.3" y2="385.9" stroke="#303030" stroke-width="0.6"/>
<text x="389.3" y="512.15" class="tk2" text-anchor="middle">250</text>
<line x1="235.6" y1="502.35" x2="237.1" y2="502.35" stroke="#303030" stroke-width="0.6"/>
<line x1="389.3" y1="502.35" x2="387.8" y2="502.35" stroke="#303030" stroke-width="0.6"/>
<text x="233.3" y="504.85" class="tk2" text-anchor="end">0</text>
<line x1="235.6" y1="487.31" x2="237.1" y2="487.31" stroke="#303030" stroke-width="0.6"/>
<line x1="389.3" y1="487.31" x2="387.8" y2="487.31" stroke="#303030" stroke-width="0.6"/>
<text x="233.3" y="489.81" class="tk2" text-anchor="end">50</text>
<line x1="235.6" y1="472.28" x2="237.1" y2="472.28" stroke="#303030" stroke-width="0.6"/>
<line x1="389.3" y1="472.28" x2="387.8" y2="472.28" stroke="#303030" stroke-width="0.6"/>
<text x="233.3" y="474.78" class="tk2" text-anchor="end">100</text>
<line x1="235.6" y1="457.24" x2="237.1" y2="457.24" stroke="#303030" stroke-width="0.6"/>
<line x1="389.3" y1="457.24" x2="387.8" y2="457.24" stroke="#303030" stroke-width="0.6"/>
<text x="233.3" y="459.74" class="tk2" text-anchor="end">150</text>
<line x1="235.6" y1="442.2" x2="237.1" y2="442.2" stroke="#303030" stroke-width="0.6"/>
<line x1="389.3" y1="442.2" x2="387.8" y2="442.2" stroke="#303030" stroke-width="0.6"/>
<text x="233.3" y="444.7" class="tk2" text-anchor="end">200</text>
<line x1="235.6" y1="427.17" x2="237.1" y2="427.17" stroke="#303030" stroke-width="0.6"/>
<line x1="389.3" y1="427.17" x2="387.8" y2="427.17" stroke="#303030" stroke-width="0.6"/>
<text x="233.3" y="429.67" class="tk2" text-anchor="end">250</text>
<line x1="235.6" y1="412.13" x2="237.1" y2="412.13" stroke="#303030" stroke-width="0.6"/>
<line x1="389.3" y1="412.13" x2="387.8" y2="412.13" stroke="#303030" stroke-width="0.6"/>
<text x="233.3" y="414.63" class="tk2" text-anchor="end">300</text>
<line x1="235.6" y1="397.09" x2="237.1" y2="397.09" stroke="#303030" stroke-width="0.6"/>
<line x1="389.3" y1="397.09" x2="387.8" y2="397.09" stroke="#303030" stroke-width="0.6"/>
<text x="233.3" y="399.59" class="tk2" text-anchor="end">350</text>
<text x="312.45" y="520.15" class="xl2" text-anchor="middle">Difference interval (<tspan class='it'>μ</tspan>s)</text>
<text transform="translate(219.6,443.38) rotate(-90)" class="yl2" text-anchor="middle">Histogram value</text>
<rect x="294.7" y="388.2" width="90.8" height="8.9" fill="#fff" stroke="#262626" stroke-width="0.8"/>
<line x1="297" y1="392.3" x2="306" y2="392.3" stroke="#0072BD" stroke-width="1.1"/>
<text x="311.6" y="394.8" class="lg2">Histogram cumulative value</text>
<rect x="248.3" y="427.8" width="17.2" height="17.4" rx="0.6" fill="#fff" fill-opacity="0.92" stroke="#d6d6d6" stroke-width="0.5"/>
<rect x="246.98" y="445.06" width="1.5" height="1.5" fill="#333326"/>
<text x="250.3" y="435.6" class="tp tx">X</text><text x="254.8" y="435.6" class="tp tv">47</text>
<text x="250.3" y="442.3" class="tp tx">Y</text><text x="254.8" y="442.3" class="tp tv">188</text>
<rect x="261.9" y="448.7" width="16.8" height="17.4" rx="0.6" fill="#fff" fill-opacity="0.92" stroke="#d6d6d6" stroke-width="0.5"/>
<rect x="260.23" y="447.47" width="1.5" height="1.5" fill="#333326"/>
<text x="263.9" y="456.5" class="tp tx">X</text><text x="268.4" y="456.5" class="tp tv">66</text>
<text x="263.9" y="463.2" class="tp tx">Y</text><text x="268.4" y="463.2" class="tp tv">180</text>
<rect x="292" y="425.4" width="20.8" height="17.4" rx="0.6" fill="#fff" fill-opacity="0.92" stroke="#d6d6d6" stroke-width="0.5"/>
<rect x="290.43" y="442.35" width="1.5" height="1.5" fill="#333326"/>
<text x="294" y="433.2" class="tp tx">X</text><text x="298.5" y="433.2" class="tp tv">109.3</text>
<text x="294" y="439.9" class="tp tx">Y</text><text x="298.5" y="439.9" class="tp tv">197</text>
<text x="96.5" y="162.8" class="cp" text-anchor="middle"><tspan class="cpn">(</tspan>a<tspan class="cpn">)</tspan></text>
<text x="305.5" y="162.8" class="cp" text-anchor="middle"><tspan class="cpn">(</tspan>b<tspan class="cpn">)</tspan></text>
<text x="96.5" y="351.4" class="cp" text-anchor="middle"><tspan class="cpn">(</tspan>c<tspan class="cpn">)</tspan></text>
<text x="305.5" y="351.4" class="cp" text-anchor="middle"><tspan class="cpn">(</tspan>d<tspan class="cpn">)</tspan></text>
<text x="96.5" y="542.5" class="cp" text-anchor="middle"><tspan class="cpn">(</tspan>e<tspan class="cpn">)</tspan></text>
<text x="305.5" y="542.5" class="cp" text-anchor="middle"><tspan class="cpn">(</tspan>f<tspan class="cpn">)</tspan></text>
</svg>
</body></html>
